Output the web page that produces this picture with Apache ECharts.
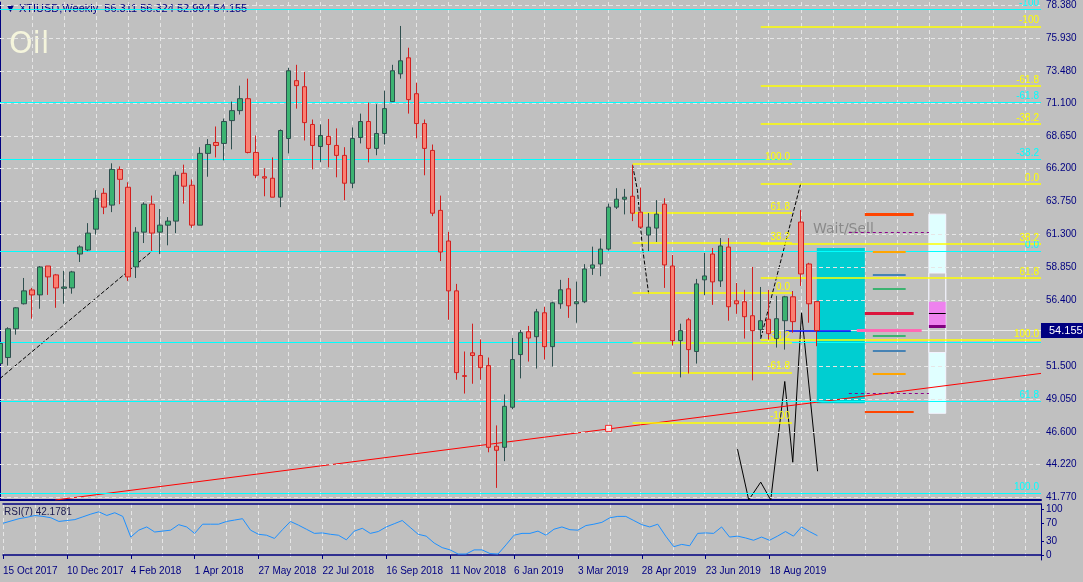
<!DOCTYPE html>
<html><head><meta charset="utf-8">
<script src="https://cdn.jsdelivr.net/npm/echarts@6/dist/echarts.min.js"></script>
<style>html,body{margin:0;padding:0;background:#c0c0c0}#c{width:1083px;height:582px}</style>
</head><body><div id="c"></div>
<script>
// ---- data (weekly XTIUSD, one bar per week from 15 Oct 2017) ----
const opens  = [51.7,52.15,54.29,56.15,57.18,56.81,58.96,58.3,57.3,57.33,59.85,60.15,61.7,64.37,63.49,66.15,64.82,58.89,61.48,63.56,61.48,62.0,62.3,65.86,64.97,62.0,67.34,68.15,68.08,69.78,70.52,71.41,67.41,65.6,65.49,64.08,68.45,72.75,72.3,69.49,67.85,68.6,67.93,67.19,65.12,68.52,69.71,67.71,68.82,71.19,73.26,74.45,71.78,69.56,67.56,63.1,60.82,57.11,50.8,52.5,52.3,51.55,45.55,45.47,48.45,52.37,54.07,53.7,55.48,52.96,56.15,57.26,56.15,56.3,58.8,59.11,60.22,63.34,63.93,64.15,62.97,61.26,61.78,63.56,58.96,53.41,54.96,52.6,57.93,59.85,57.85,60.37,56.37,56.3,55.26,54.22,55.0,53.56,54.89,56.67,62.23,59.11,56.311];
const closes = [53.2,54.29,55.85,57.11,56.81,58.89,58.15,57.33,57.4,58.52,60.38,61.41,64.0,63.34,66.15,65.41,58.15,61.48,63.56,61.41,62.0,62.3,65.71,64.9,62.0,67.34,68.0,67.93,69.71,70.52,71.41,67.41,65.71,65.5,64.08,69.04,73.49,72.38,69.63,67.93,68.67,68.0,67.19,65.12,68.45,69.71,67.71,68.82,70.67,73.49,74.23,71.34,69.56,67.71,62.89,60.0,57.11,51.03,50.75,52.3,51.4,45.47,45.25,48.52,52.0,54.0,53.6,55.55,52.96,56.22,57.19,56.0,56.3,58.74,59.04,60.22,63.34,63.93,64.08,62.89,61.85,61.85,62.82,59.04,53.41,54.15,52.74,57.63,58.22,57.78,60.45,55.93,56.15,55.19,54.15,54.89,53.93,55.04,56.67,54.82,58.37,56.15,54.155];
const highs  = [53.6,54.4,55.9,58.07,57.33,58.96,58.96,58.37,58.6,58.6,60.5,62.15,64.6,64.75,66.6,66.37,65.19,61.85,63.7,64.2,63.2,62.6,66.0,66.5,65.4,67.8,68.4,69.34,69.93,71.19,72.38,72.9,68.67,66.23,67.04,69.12,73.71,73.93,73.41,69.86,69.5,69.9,69.2,67.8,69.27,70.3,71.12,71.0,72.0,73.93,76.82,75.2,72.6,69.86,68.0,64.2,61.5,57.63,52.6,54.67,53.5,52.15,47.1,49.4,53.6,54.2,54.5,55.77,55.93,56.3,57.93,58.07,57.8,59.1,60.4,61.0,63.6,64.75,64.7,66.5,64.8,62.9,63.86,64.0,59.78,54.67,55.1,58.0,59.93,60.3,61.04,61.04,57.7,57.19,58.89,57.4,57.19,56.74,56.74,57.1,63.12,59.2,56.324];
const lows   = [51.2,51.55,53.85,56.1,55.04,55.78,56.81,55.85,56.15,56.9,59.26,60.07,61.3,62.82,62.97,63.56,57.85,58.07,60.67,60.08,59.85,60.5,61.41,63.6,61.8,62.0,65.6,67.04,66.82,67.64,70.23,67.34,65.5,64.15,64.08,63.34,67.34,70.67,68.3,66.15,66.7,66.3,65.56,63.86,64.75,68.08,66.67,67.2,68.0,71.19,72.9,70.3,68.45,65.71,62.67,59.33,54.96,50.5,49.47,50.2,50.5,45.1,42.45,44.44,48.3,50.6,51.85,51.33,52.0,51.48,55.78,55.1,54.74,56.2,58.3,58.2,60.1,63.2,62.8,62.3,61.78,60.07,60.75,57.33,53.04,50.67,50.96,51.7,56.8,56.07,57.4,54.89,55.4,53.56,50.45,53.56,53.48,52.89,52.74,54.0,57.48,54.74,52.994];
const rsi    = [69,74,79,82,86,84,81,73,75,77,83,89,94,86,92,84,39,54,61,50,52,54,66,61,47,67,67,67,73,76,79,54,45,43,36,55,73,65,56,47,48,45,43,33,52,58,47,51,61,68,75,60,45,41,26,16,11,2,2,11,11,3,2,22,43,47,47,52,43,56,61,55,54,64,67,71,81,84,84,75,66,61,67,41,18,23,20,47,48,47,61,39,41,37,32,39,32,41,51,41,61,51,42];
const priceTicks = [78.380,75.930,73.480,71.100,68.650,66.200,63.750,61.300,58.850,56.400,51.500,49.050,46.600,44.220,41.770];
const rsiTicks = [0,30,70,100];
const startDate = '2017-10-15';
const nWeeks = 131;
const lastPrice = 54.155;
// fib / level lines
const cyanLevels = [78.05,71.15,66.93,60.04,53.29,48.91,42.07];
const cyanLabels = ['-100','-61.8','-38.2','0.0','','61.8','100.0'];
const yellowLong = [76.79,72.35,69.51,65.08,60.59,58.08,53.45];
const yellowLongLabels = ['-100','-61.8','-38.2','0.0','38.2','61.8','100.0'];
const yellowShort = [66.60,62.89,60.67,56.96,53.26,51.03,47.33];
const yellowShortLabels = ['100.0','61.8','38.2','0.0','-38.2','-61.8','-100'];
// drawings: [barIndex, price]
const dashA = [[0,50.59],[19,60.07]];
const dashB = [[79,66.45],[79.6,64.6],[80.2,60.5],[81,56.9]];
const dashC = [[95,53.55],[100,65.11]];
const zigzag = [[92.1,45.33],[93.5,41.55],[95,42.88],[96.25,41.55],[98,50.37],[99,44.36],[100.1,55.48],[102.1,43.69]];
const trend = [[6.9,41.55],[130,50.97]];
const trendMark = [[76,46.88]];
// right-side signal levels: [price, x0, x1, colour, width]
const sigLevels = [[62.82,108,114.1,'#ff4500',3],[60.0,109,113.1,'#ffa500',2],[58.3,109,113.1,'#4682b4',2],[57.26,109,113.1,'#3cb371',2],[55.43,108,114.1,'#dc143c',3],[54.15,107,115.1,'#ff69b4',3],[53.78,109,113.1,'#3cb371',2],[52.66,109,113.1,'#4682b4',2],[50.96,109,113.1,'#ffa500',2],[48.11,108,114.1,'#ff4500',2]];
const lastLabelIndex = 102;

// ---- build ----
const months=['Jan','Feb','Mar','Apr','May','Jun','Jul','Aug','Sep','Oct','Nov','Dec'];
const cats=[];{const d=new Date(startDate+'T00:00:00Z');for(let i=0;i<nWeeks;i++){const t=new Date(d.getTime()+i*7*864e5);cats.push(t.getUTCDate()+' '+months[t.getUTCMonth()]+' '+t.getUTCFullYear());}}
const candles = opens.map((o,i)=>[o,closes[i],lows[i],highs[i]]);
const NAVY='#000080', F='Liberation Sans';
const ml=(lines,extra)=>Object.assign({symbol:'none',silent:true,animation:false,data:lines},extra||{});
const hl=(y,x0,x1,col,w,type,label)=>[{coord:[x0,y],lineStyle:{color:col,width:w,type:type||'solid'},label:label||{show:false}},{coord:[x1,y]}];

const gridLines = priceTicks.map(v=>({yAxis:v,lineStyle:{color:'#e6e6e6',type:[4,3],width:1},label:{show:false}}));
const cyanML = cyanLevels.map((v,i)=>({yAxis:v,lineStyle:{color:'#00ffff',width:1,type:'solid'},label:{show:!!cyanLabels[i],formatter:cyanLabels[i],position:'insideEndTop',color:'#00ffff',fontSize:10,fontFamily:F,distance:[2,1]}}));
const ylab=(t)=>({show:true,formatter:t,position:'insideEndTop',color:'#ffff00',fontSize:10,fontFamily:F,distance:[2,1]});
const yLongML = yellowLong.map((v,i)=>hl(v,95,130,'#ffff00',1.5,'solid',ylab(yellowLongLabels[i])));
const yShortML = yellowShort.map((v,i)=>hl(v,79,98.9,'#ffff00',1.5,'solid',ylab(yellowShortLabels[i])));
const sigML = sigLevels.map(s=>hl(s[0],s[1],s[2],s[3],s[4]));
sigML.push(hl(61.48,106,116,'#8b008b',1,[3,3]));
sigML.push(hl(49.48,106,116,'#8b008b',1,[3,3]));
sigML.push(hl(lastPrice,98.1,106.25,'#0000ff',1.5));
sigML.push(hl(54.45,116,118.1,'#800080',3));
sigML.push(hl(55.41,116,118.1,'#000000',1));

const lineS=(data,col,type,w)=>({type:'line',xAxisIndex:2,yAxisIndex:0,data,showSymbol:false,silent:true,animation:false,lineStyle:{color:col,width:w||1,type:type||'solid'},z:4});

const chart = echarts.init(document.getElementById('c'));
chart.setOption({
  backgroundColor:'#c0c0c0',
  animation:false,
  grid:[{left:0,top:0,width:1041,height:500},{left:0,top:504,width:1041,height:56}],
  xAxis:[
    {type:'category',gridIndex:0,data:cats,boundaryGap:false,axisLine:{lineStyle:{color:NAVY,width:2}},axisTick:{show:false},axisLabel:{show:false},splitLine:{show:true,interval:3,lineStyle:{color:'#e6e6e6',type:[4,3]}}},
    {type:'category',gridIndex:1,data:cats,boundaryGap:false,axisLine:{lineStyle:{color:NAVY,width:1.5}},
      axisTick:{show:true,interval:(i)=>i%8===0&&i<=lastLabelIndex,length:4,lineStyle:{color:NAVY}},
      axisLabel:{interval:(i)=>i%8===0&&i<=lastLabelIndex,align:'left',color:NAVY,fontFamily:F,fontSize:10,margin:6},
      splitLine:{show:true,interval:3,lineStyle:{color:'#e6e6e6',type:[4,3]}}},
    {type:'value',gridIndex:0,min:0,max:nWeeks-1,show:false},
    {type:'category',gridIndex:1,data:cats,boundaryGap:false,position:'top',axisLine:{lineStyle:{color:NAVY,width:1.5}},axisTick:{show:false},axisLabel:{show:false}}
  ],
  yAxis:[
    {type:'value',gridIndex:0,position:'right',min:41.55,max:78.60,axisLine:{show:true,lineStyle:{color:NAVY}},splitLine:{show:false},
      axisTick:{show:true,customValues:priceTicks,length:4,lineStyle:{color:NAVY}},
      axisLabel:{customValues:priceTicks,formatter:v=>v.toFixed(3),color:NAVY,fontFamily:F,fontSize:10,margin:5}},
    {type:'value',gridIndex:1,position:'right',min:-11,max:111,axisLine:{show:true,lineStyle:{color:NAVY}},splitLine:{show:false},
      axisTick:{show:true,customValues:rsiTicks,length:3,lineStyle:{color:NAVY}},
      axisLabel:{customValues:rsiTicks,color:NAVY,fontFamily:F,fontSize:10,margin:5}}
  ],
  series:[
    {type:'line',xAxisIndex:2,yAxisIndex:0,data:[],z:1,markLine:ml(gridLines)},
    {type:'line',xAxisIndex:2,yAxisIndex:0,data:[],z:2,
      markArea:{silent:true,data:[
        [{coord:[102,60.30],itemStyle:{color:'#00ced1'}},{coord:[108,48.74]}],
        [{coord:[116,62.82],itemStyle:{color:'#e0ffff',borderColor:'#f4f4ff',borderWidth:1}},{coord:[118.1,48.0]}],
        [{coord:[116,58.44],itemStyle:{color:'#c4c4c4',borderColor:'#f4f4ff',borderWidth:1}},{coord:[118.1,52.52]}],
        [{coord:[116,56.3],itemStyle:{color:'#ee82ee'}},{coord:[118.1,54.52]}]
      ]}},
    {type:'line',xAxisIndex:2,yAxisIndex:0,data:[],z:3,markLine:ml(cyanML)},
    {type:'line',xAxisIndex:2,yAxisIndex:0,data:[],z:3,markLine:ml(yLongML.concat(yShortML),{lineStyle:{color:'#ffff00',width:1.5,type:'solid'}})},
    {type:'candlestick',xAxisIndex:0,yAxisIndex:0,data:candles,barWidth:5,z:5,
      itemStyle:{color:'#3cb371',color0:'#fa8072',borderColor:'#2f4f4f',borderColor0:'#d21f1f',borderWidth:1},
      markLine:ml([{yAxis:lastPrice,lineStyle:{color:'#e8e8e8',width:1,type:'solid'},label:{show:true,position:'end',formatter:'54.155',backgroundColor:NAVY,color:'#fff',fontFamily:F,fontSize:11,padding:[2,4,2,8],distance:0}}])},
    lineS(dashA,'#000','dashed',1),
    lineS(dashB,'#000','dashed',1),
    lineS(dashC,'#000','dashed',1),
    lineS(zigzag,'#000','solid',1),
    lineS(trend,'#ff0000','solid',1),
    {type:'scatter',xAxisIndex:2,yAxisIndex:0,data:trendMark,symbol:'rect',symbolSize:6,itemStyle:{color:'#fff',borderColor:'#ff0000',borderWidth:1},z:6,silent:true},
    {type:'line',xAxisIndex:2,yAxisIndex:0,data:[],z:7,markLine:ml(sigML)},
    {type:'line',xAxisIndex:1,yAxisIndex:1,data:rsi,showSymbol:false,lineStyle:{color:'#1e90ff',width:1},z:5}
  ],
  graphic:[
    {type:'text',left:5,top:3,style:{text:'▼ XTIUSD,Weekly  56.311 56.324 52.994 54.155',fill:NAVY,font:'11px Liberation Sans'}},
    {type:'text',left:9,top:30,style:{text:'Oil',fill:'#f5f5dc',font:'30px DejaVu Sans'}},
    {type:'text',left:4,top:507,style:{text:'RSI(7) 42.1781',fill:'#1a1a50',font:'10px Liberation Sans'}},
    {type:'text',left:813,top:222,style:{text:'Wait/Sell',fill:'#8a8a8a',font:'14px DejaVu Sans'}}
  ]
});
</script></body></html>
